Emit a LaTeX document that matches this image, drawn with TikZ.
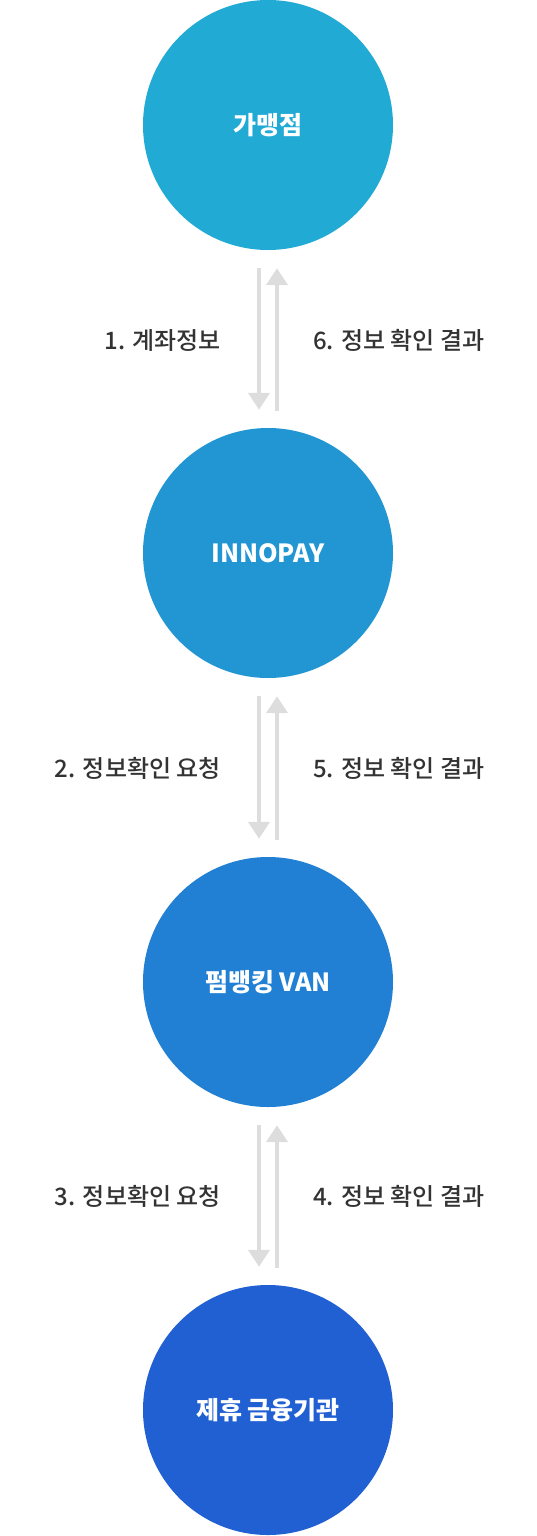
\documentclass[tikz,border=0pt]{standalone}
\usepackage{fontspec}
\newfontfamily\kr{Noto Sans CJK KR}
\newfontfamily\krm{Noto Sans CJK KR Medium}
\usetikzlibrary{arrows.meta}
\definecolor{cA}{HTML}{21AAD4}
\definecolor{cB}{HTML}{2196D3}
\definecolor{cC}{HTML}{2180D3}
\definecolor{cD}{HTML}{2160D2}
\definecolor{lineg}{HTML}{DDDDDD}
\definecolor{txt}{HTML}{333333}
\begin{document}
\begin{tikzpicture}[x=1pt,y=-1pt,
  circ/.style={circle,minimum size=250pt,inner sep=0pt,text=white,font=\kr\bfseries\fontsize{25pt}{28pt}\selectfont},
  lbl/.style={text=txt,font=\krm\fontsize{24pt}{28pt}\selectfont,inner sep=0pt},
  flow/.style={draw=lineg,line width=4pt,-{Triangle[width=21pt,length=17pt]}}]
\useasboundingbox (0,0) rectangle (536,1536);
\node[circ,fill=cA] (c1) at (268,125) {가맹점};
\node[circ,fill=cB] (c2) at (268,553) {INNOPAY};
\node[circ,fill=cC] (c3) at (268,982) {펌뱅킹 VAN};
\node[circ,fill=cD] (c4) at (268,1410) {제휴 금융기관};
\foreach \a/\b in {c1/c2,c2/c3,c3/c4}{
  \draw[flow] ([xshift=-9pt,yshift=-18pt]\a.south) -- ([xshift=-9pt,yshift=18pt]\b.north);
  \draw[flow] ([xshift=9pt,yshift=17pt]\b.north) -- ([xshift=9pt,yshift=-18pt]\a.south);
}
\node[lbl,anchor=east] (l1) at (221,340) {1. 계좌정보};
\node[lbl,anchor=west] (r1) at (313,340) {6. 정보 확인 결과};
\node[lbl,anchor=east] (l2) at (221,768) {2. 정보확인 요청};
\node[lbl,anchor=west] (r2) at (313,768) {5. 정보 확인 결과};
\node[lbl,anchor=east] (l3) at (221,1196) {3. 정보확인 요청};
\node[lbl,anchor=west] (r3) at (313,1196) {4. 정보 확인 결과};
\end{tikzpicture}
\end{document}
